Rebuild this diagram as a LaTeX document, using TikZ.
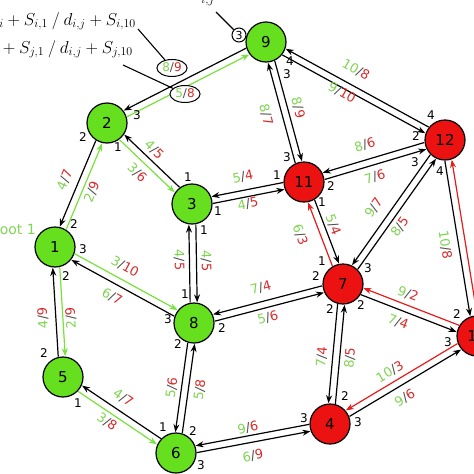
\documentclass[tikz,border=0pt]{standalone}
\usepackage{amsmath}
\usepackage{xcolor}
\usepackage{fontspec}
\setmainfont{DejaVu Sans}
\usepackage{tikz}
\usetikzlibrary{positioning,arrows.meta,shapes.geometric,calc}
\definecolor{nodegreen}{RGB}{102,224,30}
\definecolor{nodered}{RGB}{236,18,18}
\definecolor{linegreen}{RGB}{118,226,58}
\definecolor{linered}{RGB}{228,28,28}
\definecolor{txtgreen}{RGB}{128,212,82}
\definecolor{txtred}{RGB}{218,42,42}
\tikzset{
  gnode/.style={circle, draw=black, line width=1.2pt, fill=nodegreen, minimum size=40pt,
    inner sep=0pt, font=\fontsize{15}{15}\selectfont},
  rnode/.style={circle, draw=black, line width=1.2pt, fill=nodered, minimum size=40pt,
    inner sep=0pt, font=\fontsize{15}{15}\selectfont},
  link/.style={-{Stealth[length=8pt,width=6pt]}, line width=1.2pt,
    shorten >=20.6pt, shorten <=20.6pt},
  kline/.style={draw=black},
  gline/.style={draw=linegreen},
  rline/.style={draw=linered},
  port/.style={font=\fontsize{12}{12}\selectfont, inner sep=0pt},
  lbl/.style={font=\fontsize{13}{13}\selectfont, inner sep=0pt},
  tag/.style={ellipse, draw=black, line width=1pt, fill=white, inner sep=1pt,
    minimum width=24pt, minimum height=17pt, font=\fontsize{12}{12}\selectfont},
  callout/.style={draw=black, line width=1.1pt},
  eqn/.style={font=\fontsize{17}{17}\selectfont, inner sep=0pt},
}
\newcommand{\wts}[2]{\textcolor{txtgreen}{#1}\textcolor{black!70}{/}\textcolor{txtred}{#2}}
% two opposite links between #1 and #2; #5 = side offset (+ left-hand, - right-hand)
\newcommand{\twoway}[5]{%
  \draw[link,#3] ($(#1)!#5!90:(#2)$) -- ($(#2)!#5!-90:(#1)$);
  \draw[link,#4] ($(#2)!#5!90:(#1)$) -- ($(#1)!#5!-90:(#2)$);}

\begin{document}
\begin{tikzpicture}[x=1pt,y=-1pt]
\useasboundingbox (0,0) rectangle (474,474);
\clip (0,0) rectangle (474,474);
% ---- nodes ----
\node[gnode] (n1) at (55,247) {1};
\node[gnode] (n2) at (107,123) {2};
\node[gnode] (n3) at (192,204) {3};
\node[rnode] (n4) at (330,424) {4};
\node[gnode] (n5) at (63,377) {5};
\node[gnode] (n6) at (176,453) {6};
\node[rnode] (n7) at (343,284) {7};
\node[gnode] (n8) at (194,323) {8};
\node[gnode] (n9) at (266,42) {9};
\node[rnode] (n10) at (477,336) {10};
\node[rnode] (n11) at (304,182) {11};
\node[rnode] (n12) at (445,140) {12};
% ---- links ----
\twoway{n9}{n2}{kline}{gline}{-3.5pt}
\twoway{n2}{n1}{kline}{gline}{-3.5pt}
\twoway{n3}{n2}{kline}{gline}{-3.5pt}
\twoway{n9}{n11}{kline}{kline}{3.5pt}
\twoway{n9}{n12}{kline}{kline}{-3.5pt}
\twoway{n11}{n12}{kline}{kline}{-3.5pt}
\twoway{n3}{n11}{kline}{kline}{-3.5pt}
\twoway{n3}{n8}{kline}{kline}{3.5pt}
\twoway{n1}{n8}{gline}{kline}{3.5pt}
\twoway{n1}{n5}{gline}{kline}{3.5pt}
\twoway{n5}{n6}{gline}{kline}{-3.5pt}
\twoway{n8}{n6}{kline}{kline}{-3.5pt}
\twoway{n8}{n7}{kline}{kline}{-3.5pt}
\twoway{n11}{n7}{kline}{rline}{3.5pt}
\twoway{n12}{n7}{kline}{kline}{-3.5pt}
\twoway{n7}{n4}{kline}{kline}{-3.5pt}
\twoway{n7}{n10}{kline}{rline}{-3.5pt}
\twoway{n12}{n10}{kline}{rline}{-3.5pt}
\twoway{n4}{n10}{kline}{rline}{-3.5pt}
\twoway{n6}{n4}{kline}{kline}{-3.5pt}
\coordinate (below6) at (176,520);
\draw[link,gline] (n6) -- (below6);
% ---- link weights ----
\node[lbl, rotate=67] (w21a) at (65,180) {\wts{4}{7}};
\node[lbl, rotate=67] (w21b) at (92,192) {\wts{2}{9}};
\node[lbl, rotate=-44] (w23a) at (154,150) {\wts{4}{5}};
\node[lbl, rotate=-44] (w23b) at (137,173) {\wts{3}{6}};
\node[lbl, rotate=-75] (w911a) at (266,115) {\wts{8}{7}};
\node[lbl, rotate=-75] (w911b) at (298,108) {\wts{8}{9}};
\node[lbl, rotate=-29] (w912a) at (356,70) {\wts{10}{8}};
\node[lbl, rotate=-29] (w912b) at (342,93) {\wts{9}{10}};
\node[lbl, rotate=17] (w1112a) at (365,145) {\wts{8}{6}};
\node[lbl, rotate=17] (w1112b) at (375,177) {\wts{7}{6}};
\node[lbl, rotate=11] (w311a) at (243,177) {\wts{5}{4}};
\node[lbl, rotate=11] (w311b) at (248,204) {\wts{4}{5}};
\node[lbl, rotate=-89] (w38a) at (179,260) {\wts{4}{5}};
\node[lbl, rotate=-89] (w38b) at (206,261) {\wts{4}{5}};
\node[lbl, rotate=-29] (w18a) at (125,267) {\wts{3}{10}};
\node[lbl, rotate=-29] (w18b) at (112,297) {\wts{6}{7}};
\node[lbl, rotate=93.5] (w15a) at (43,318) {\wts{4}{9}};
\node[lbl, rotate=93.5] (w15b) at (71,318) {\wts{2}{9}};
\node[lbl, rotate=-34] (w56a) at (123,398) {\wts{4}{7}};
\node[lbl, rotate=-34] (w56b) at (107,422) {\wts{3}{8}};
\node[lbl, rotate=82] (w86a) at (172,388) {\wts{5}{6}};
\node[lbl, rotate=82] (w86b) at (200,390) {\wts{5}{8}};
\node[lbl, rotate=15] (w87a) at (261,288) {\wts{7}{4}};
\node[lbl, rotate=15] (w87b) at (268,318) {\wts{5}{6}};
\node[lbl, rotate=-69] (w117a) at (300,235) {\wts{6}{3}};
\node[lbl, rotate=-69] (w117b) at (333,225) {\wts{5}{4}};
\node[lbl, rotate=55] (w127a) at (374,208) {\wts{9}{7}};
\node[lbl, rotate=55] (w127b) at (400,227) {\wts{8}{5}};
\node[lbl, rotate=85] (w74a) at (322,357) {\wts{7}{4}};
\node[lbl, rotate=85] (w74b) at (350,358) {\wts{8}{5}};
\node[lbl, rotate=-21] (w710a) at (408,294) {\wts{9}{2}};
\node[lbl, rotate=-21] (w710b) at (398,322) {\wts{7}{4}};
\node[lbl, rotate=-81] (w1210a) at (445,245) {\wts{10}{8}};
\node[lbl, rotate=-81] (w1210b) at (482,240) {\wts{10}{8}};
\node[lbl, rotate=31] (w410a) at (390,372) {\wts{10}{3}};
\node[lbl, rotate=31] (w410b) at (405,398) {\wts{9}{6}};
\node[lbl, rotate=11] (w64a) at (248,428) {\wts{9}{6}};
\node[lbl, rotate=11] (w64b) at (253,456) {\wts{6}{9}};
% ---- ports ----
\node[port] (q2a) at (137,115) {3};
\node[port] (q2b) at (83,137) {2};
\node[port] (q2c) at (118,147) {1};
\node[port] (q9a) at (290,61) {4};
\node[port] (q9b) at (287,74) {3};
\node[port] (q12a) at (431,115) {4};
\node[port] (q12b) at (416,136) {2};
\node[port] (q12c) at (415,162) {3};
\node[port] (q12d) at (440,171) {4};
\node[port] (q11a) at (287,157) {3};
\node[port] (q11b) at (277,175) {1};
\node[port] (q11c) at (331,186) {2};
\node[port] (q11d) at (322,202) {1};
\node[port] (q3a) at (188,177) {1};
\node[port] (q3b) at (218,211) {1};
\node[port] (q3c) at (204,230) {1};
\node[port] (q1a) at (74,224) {2};
\node[port] (q1b) at (83,249) {3};
\node[port] (q1c) at (66,276) {2};
\node[port] (q8a) at (185,294) {1};
\node[port] (q8b) at (168,319) {3};
\node[port] (q8c) at (222,328) {2};
\node[port] (q8d) at (178,344) {2};
\node[port] (q7a) at (322,261) {1};
\node[port] (q7b) at (316,276) {2};
\node[port] (q7c) at (368,268) {3};
\node[port] (q7d) at (361,305) {2};
\node[port] (q7e) at (330,309) {2};
\node[port] (q5a) at (44,353) {2};
\node[port] (q5b) at (78,403) {1};
\node[port] (q6a) at (163,427) {1};
\node[port] (q6b) at (193,431) {2};
\node[port] (q6c) at (201,465) {3};
\node[port] (q4a) at (345,396) {2};
\node[port] (q4b) at (304,418) {3};
\node[port] (q4c) at (358,422) {3};
\node[port] (q10a) at (457,314) {2};
\node[port] (q10b) at (448,342) {3};
% ---- legend ----
\node[circle, draw=black, line width=1pt, fill=white, inner sep=0.5pt, minimum size=14pt,
  font=\fontsize{11}{11}\selectfont] (c9) at (239,35) {3};
\node[tag] (e1) at (172,68) {\wts{8}{9}};
\node[tag] (e2) at (185,94) {\wts{5}{8}};
\node[eqn, anchor=base east] (eqi) at (136,25) {${}_i + S_{i,1} \mathbin{/} d_{i,j} + S_{i,10}$};
\node[eqn, anchor=base east] (eqj) at (133,53) {${} + S_{j,1} \mathbin{/} d_{i,j} + S_{j,10}$};
\node[eqn] (eqij) at (208,1) {${}_{i,j}$};
\node[font=\fontsize{14}{14}\selectfont, text=txtgreen, anchor=east, inner sep=0pt] (root) at (36,229) {Root 1};
\coordinate (ci) at (138,29);
\coordinate (cj) at (123,65);
\coordinate (cij) at (216,12);
\draw[callout] (ci) -- (e1);
\draw[callout] (cj) -- (e2);
\draw[callout] (cij) -- (c9);
\end{tikzpicture}
\end{document}
